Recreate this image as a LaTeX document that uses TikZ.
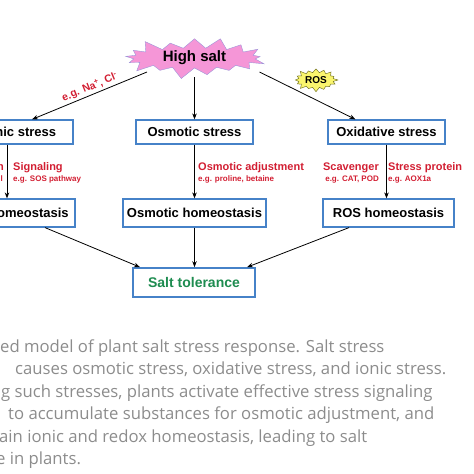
\documentclass[tikz,border=0pt]{standalone}
\usepackage{fontspec}
\setmainfont{Liberation Sans}
\newfontfamily\capfont{Open Sans}
\usepackage{xcolor}
\definecolor{boxblue}{RGB}{70,130,200}
\definecolor{lblred}{RGB}{210,30,50}
\definecolor{tolgreen}{RGB}{30,140,80}
\definecolor{saltpink}{RGB}{245,150,215}
\definecolor{saltblue}{RGB}{165,185,240}
\definecolor{rosyellow}{RGB}{250,245,110}
\definecolor{rosedge}{RGB}{120,120,40}
\definecolor{capgray}{RGB}{140,140,140}
\usepackage{tikz}
\usetikzlibrary{shapes.symbols,arrows.meta,positioning}
\pgfdeclareradialshading{saltshade}{\pgfpoint{0bp}{0bp}}{color(0bp)=(saltpink); color(28bp)=(saltpink); color(48bp)=(saltblue); color(70bp)=(saltblue)}

\begin{document}
\begin{tikzpicture}[
    x=1pt, y=-1pt,
    box/.style={rectangle, draw=boxblue, line width=1.2pt, fill=white, minimum height=24pt, inner sep=2pt, font=\fontsize{13}{15}\selectfont\bfseries},
    homebox/.style={box, minimum height=28pt},
    tolbox/.style={box, line width=1.6pt, minimum width=122pt, minimum height=29pt, text=tolgreen, font=\fontsize{14}{16}\selectfont\bfseries},
    saltburst/.style={starburst, starburst points=17, starburst point height=13pt, shading=saltshade, draw=saltblue!80!violet, line width=0.4pt, minimum width=148pt, minimum height=35pt, inner sep=0pt, font=\fontsize{15}{17}\selectfont\bfseries},
    rosburst/.style={starburst, starburst points=16, starburst point height=5pt, fill=rosyellow, draw=rosedge, line width=0.5pt, minimum width=45pt, minimum height=25pt, inner sep=0pt, font=\fontsize{10}{12}\selectfont\bfseries},
    lbl/.style={text=lblred, inner sep=0pt, font=\fontsize{11}{12}\selectfont\bfseries},
    sublbl/.style={text=lblred, inner sep=0pt, font=\fontsize{8}{9}\selectfont\bfseries},
    arrow/.style={-{Stealth[length=6pt,width=4.5pt]}, line width=0.8pt},
    capline/.style={anchor=base west, inner sep=0pt, text=capgray, font=\capfont\fontsize{16.7}{18}\selectfont}
]
\useasboundingbox (0,0) rectangle (474,474);
\clip (0,0) rectangle (474,474);

% Trigger
\node[saltburst] (salt) at (194.5,58) {High salt};

% Stresses
\node[box, minimum width=106pt] (ionic) at (20,132) {Ionic stress};
\node[box, minimum width=117pt] (osm) at (194.5,132) {Osmotic stress};
\node[box, minimum width=117pt] (oxi) at (386.5,132) {Oxidative stress};

% Homeostasis
\node[homebox, minimum width=126pt] (ionhom) at (12,213) {Ionic homeostasis};
\node[homebox, minimum width=143pt] (osmhom) at (194.5,213) {Osmotic homeostasis};
\node[homebox, minimum width=131pt] (roshom) at (388.5,213) {ROS homeostasis};

% Result
\node[tolbox] (tol) at (194,282.5) {Salt tolerance};

% Arrows from high salt
\draw[arrow] ([xshift=-47.5pt,yshift=-14pt]salt.center) -- ([xshift=12pt]ionic.north)
    node[lbl, pos=0.47, sloped, above=2pt, font=\fontsize{10.5}{12}\selectfont\bfseries] (ions) {e.g. Na\textsuperscript{+}, Cl\textsuperscript{-}};
\draw[arrow] ([yshift=-19pt]salt.center) -- (osm.north);
\draw[arrow] ([xshift=65pt,yshift=-14pt]salt.center) -- ([xshift=-31pt]oxi.north);
\node[rosburst] (ros) at (316,80) {ROS};

% Arrows to homeostasis
\draw[arrow] ([xshift=-13pt]ionic.south) -- ([xshift=-5pt]ionhom.north);
\draw[arrow] (osm.south) -- (osmhom.north);
\draw[arrow] (oxi.south) -- (oxi.south |- roshom.north);

% Responses
\node[lbl, anchor=base east] (ionlbl) at (4,170) {n};
\node[sublbl, anchor=base east] (ionsub) at (3,181) {l};
\node[lbl, anchor=base west] (sig) at (13,170) {Signaling};
\node[sublbl, anchor=base west] (sigsub) at (13,181) {e.g. SOS pathway};
\node[lbl, anchor=base west] (adj) at (198,170) {Osmotic adjustment};
\node[sublbl, anchor=base west] (adjsub) at (198,181) {e.g. proline, betaine};
\node[lbl, anchor=base east] (scav) at (379,170) {Scavenger};
\node[sublbl, anchor=base east] (scavsub) at (379,181) {e.g. CAT, POD};
\node[lbl, anchor=base west] (prot) at (388,170) {Stress protein};
\node[sublbl, anchor=base west] (protsub) at (388,181) {e.g. AOX1a};

% Arrows to tolerance
\draw[arrow] ([xshift=33pt]ionhom.south) -- ([xshift=-54pt]tol.north);
\draw[arrow] (osmhom.south) -- (osmhom.south |- tol.north);
\draw[arrow] ([xshift=-39.5pt]roshom.south) -- ([xshift=53pt]tol.north);

% Caption
\node[capline] (cap1) at (0,352) {ed model of plant salt stress response. Salt stress};
\node[capline] (cap2) at (15,374.5) {causes osmotic stress, oxidative stress, and ionic stress.};
\node[capline] (cap3) at (1,397) {g such stresses, plants activate effective stress signaling};
\node[capline] (cap4) at (8,419.5) {to accumulate substances for osmotic adjustment, and};
\node[capline] (cap5) at (-1,442) {ain ionic and redox homeostasis, leading to salt};
\node[capline] (cap6) at (-4,464) {e in plants.};
\end{tikzpicture}
\end{document}
